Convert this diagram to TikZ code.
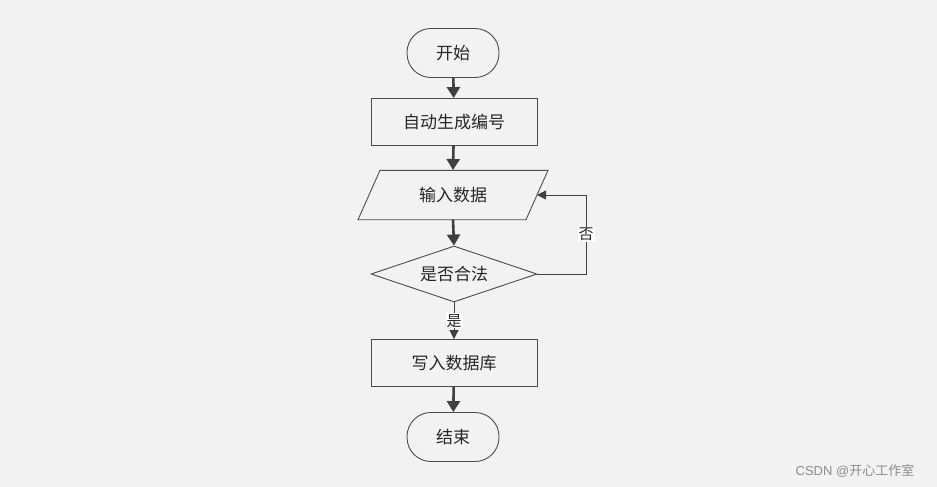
\documentclass[tikz,border=0pt]{standalone}
\usepackage{fontspec}
\newfontfamily\cjk{Noto Sans CJK SC}
\usetikzlibrary{arrows.meta,shapes.geometric}
\begin{document}
\begin{tikzpicture}[x=1pt,y=-1pt,
  every node/.style={font=\cjk\fontsize{17}{20}\selectfont,text=black!85},
  box/.style={draw=black!70,line width=0.9pt,fill=black!5,minimum width=166pt,minimum height=47pt,inner sep=0pt},
  term/.style={box,rounded corners=24pt,minimum width=92pt,minimum height=49pt},
  dia/.style={diamond,draw=black!70,line width=0.9pt,fill=black!5,aspect=3,minimum width=166pt,minimum height=56pt,inner sep=0pt},
  flow/.style={draw=black!75,line width=2.6pt,-{Triangle[length=11pt,width=13pt]}},
  thin/.style={draw=black!75,line width=0.9pt,-{Triangle[length=9pt,width=9pt]}},
  lab/.style={fill=white,inner sep=1pt,font=\cjk\fontsize{15}{18}\selectfont}]
\fill[black!5] (0,0) rectangle (937,487);
\useasboundingbox (0,0) rectangle (937,487);
\node[term] (start) at (453,53) {开始};
\node[box] (gen) at (454,122) {自动生成编号};
\node[minimum width=146pt,minimum height=49pt,inner sep=0pt] (inp) at (453,195) {};
\filldraw[draw=black!70,line width=0.9pt,fill=black!5] ([xshift=-73pt]inp.north) -- ([xshift=95pt]inp.north) -- ([xshift=73pt]inp.south) -- ([xshift=-95pt]inp.south) -- cycle;
\node at (inp) {输入数据};
\node[dia] (chk) at (454,274) {是否合法};
\node[box] (wr) at (454,363) {写入数据库};
\node[term] (end) at (453,437) {结束};
\coordinate (inpR) at (537,195);
\draw[flow] (start) -- (gen);
\draw[flow] (gen) -- (inp.north |- 0,170);
\draw[flow] (inp.south) -- (chk.north);
\draw[thin] (chk.south) -- node[lab]{是} (wr.north);
\draw[flow] (wr) -- (end);
\draw[thin] (chk.east) -- (586,274) -- node[lab,pos=0.5]{否} (586,195) -- (inpR);
\node[font=\fontspec{Liberation Sans}\fontsize{13}{15}\selectfont,text=black!45] (wm) at (855,471) {CSDN @{\cjk 开心工作室}};
\end{tikzpicture}
\end{document}
